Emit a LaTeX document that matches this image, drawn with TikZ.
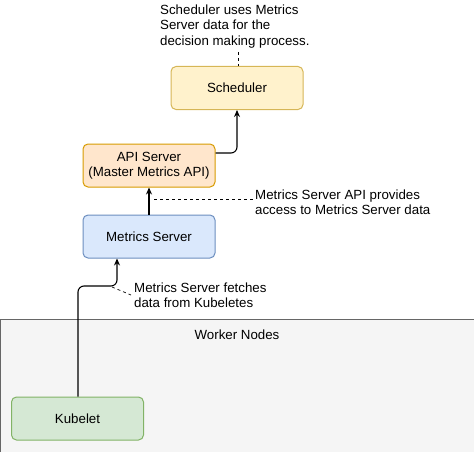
\documentclass[tikz,border=0pt]{standalone}
\usepackage{fontspec}
\setmainfont{Liberation Sans}
\usetikzlibrary{arrows.meta}
\definecolor{yfill}{HTML}{FFF2CC}\definecolor{ydraw}{HTML}{D6B656}
\definecolor{ofill}{HTML}{FFE6CC}\definecolor{odraw}{HTML}{D79B00}
\definecolor{bfill}{HTML}{DAE8FC}\definecolor{bdraw}{HTML}{6C8EBF}
\definecolor{gfill}{HTML}{D5E8D4}\definecolor{gdraw}{HTML}{82B366}
\definecolor{wfill}{HTML}{F5F5F5}\definecolor{wdraw}{HTML}{666666}
\begin{document}
\begin{tikzpicture}[x=1pt,y=-1pt,
  every node/.style={font=\fontsize{13.3}{15.5}\selectfont},
  box/.style={draw,rounded corners=5pt,line width=1pt,minimum width=132pt,minimum height=43pt,align=center,inner sep=0pt},
  conn/.style={line width=1.1pt,rounded corners=6pt,-{Stealth[length=7pt,width=6pt]}},
  note/.style={dashed,line width=0.7pt},
  lbl/.style={align=left,anchor=north west,inner sep=0pt}]
\useasboundingbox (0,0) rectangle (474,452);
\fill[wfill] (0,319) rectangle (474,452);
\draw[wdraw,line width=1pt] (0,452) -- (0,319) -- (474,319) -- (474,452);
\node[inner sep=0pt] (wn) at (237,335) {Worker Nodes};
\node[box,fill=yfill,draw=ydraw] (sch) at (237,88) {Scheduler};
\node[box,fill=ofill,draw=odraw] (api) at (149,165.5) {API Server\\(Master Metrics API)};
\node[box,fill=bfill,draw=bdraw] (ms) at (149,236.5) {Metrics Server};
\node[box,fill=gfill,draw=gdraw] (kub) at (77.5,418.5) {Kubelet};
\node[lbl] (t1) at (160,4.5) {Scheduler uses Metrics\\Server data for the\\decision making process.};
\node[lbl] (t2) at (255,189.5) {Metrics Server API provides\\access to Metrics Server data};
\node[lbl] (t3) at (134,282.5) {Metrics Server fetches\\data from Kubeletes};
\coordinate (c1) at (238,52);
\coordinate (c2) at (154,199);
\coordinate (c3) at (112,287);
\coordinate (c3b) at (131,295);
\draw[note] (c1) -- (sch.north -| c1);
\draw[note] (c2) -- (t2.west |- c2);
\draw[note] (c3) -- (c3b);
\draw[conn] (api.east |- 0,153) -- (237,153) -- (sch.south);
\draw[conn] (ms.north) -- (api.south);
\draw[conn] (kub.north -| 78,0) -- (78,286) -- (117,286) -- (ms.south -| 117,0);
\end{tikzpicture}
\end{document}
